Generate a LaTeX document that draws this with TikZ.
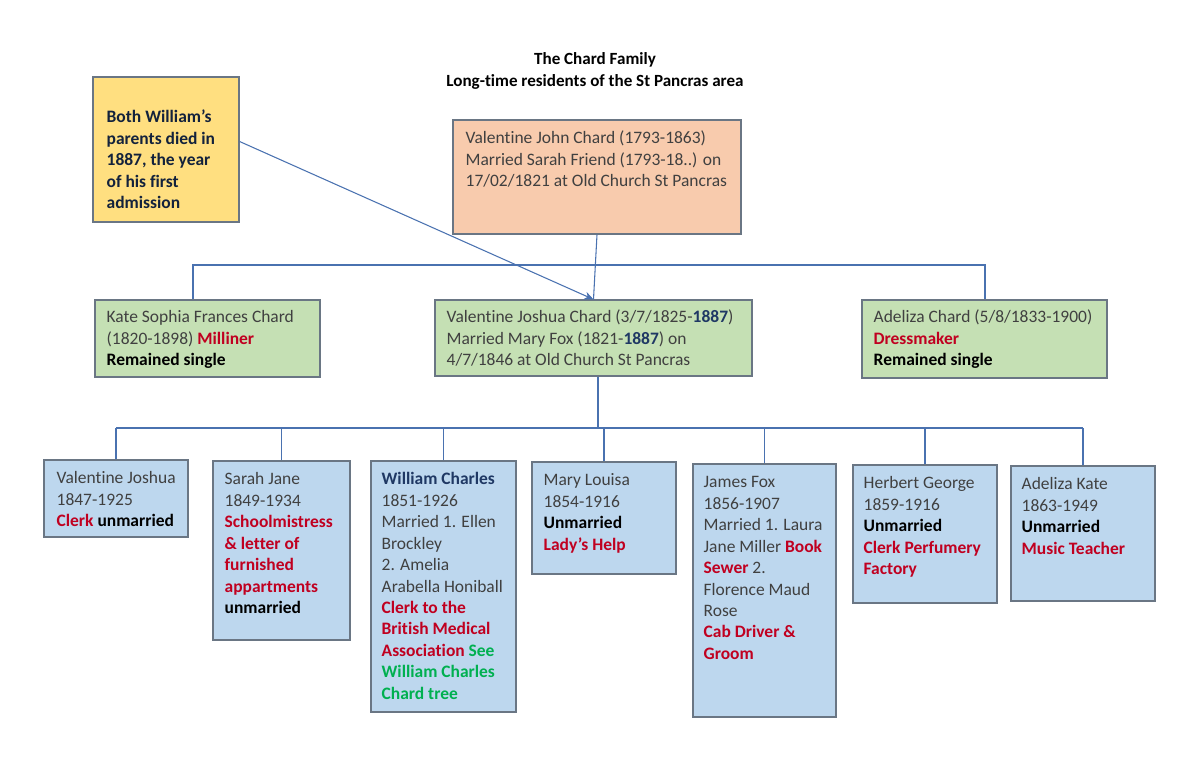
\documentclass[tikz,border=0pt]{standalone}
\usepackage{fontspec}
\setmainfont{Carlito}[Ligatures=NoCommon]
\usepackage{xcolor}
\usepackage{tikz}
\usetikzlibrary{arrows.meta,positioning,calc,fit}

\definecolor{notefill}{HTML}{FFDF80}
\definecolor{headfill}{HTML}{F8CBAD}
\definecolor{genfill}{HTML}{C5E0B4}
\definecolor{childfill}{HTML}{BDD7EE}
\definecolor{boxline}{HTML}{6A7684}
\definecolor{linkblue}{HTML}{4A72B0}
\definecolor{bodygrey}{HTML}{404040}
\definecolor{jobred}{HTML}{C00020}
\definecolor{navy}{HTML}{1F3864}
\definecolor{seegreen}{HTML}{00B050}

\begin{document}
\begin{tikzpicture}[
    x=0.75pt, y=-0.75pt,
    fambox/.style={draw=boxline, line width=0.9pt, inner sep=0pt},
    famnote/.style={fambox, fill=notefill},
    famhead/.style={fambox, fill=headfill},
    famgen/.style={fambox, fill=genfill},
    famchild/.style={fambox, fill=childfill},
    famtext/.style={anchor=north west, inner sep=0pt, align=left, text=bodygrey,
        font=\fontsize{13.1}{16.1}\selectfont},
    famlink/.style={draw=linkblue, line width=0.8pt},
    fampointer/.style={->, >={Stealth[length=7pt,width=6pt]}, draw=linkblue, line width=0.8pt}
]
\useasboundingbox (0,0) rectangle (1200,766);

% Title
\node[anchor=north, inner sep=0pt, align=center, font=\fontsize{12.8}{16.5}\selectfont\bfseries] (title) at (595,49)
    {\strut The Chard Family\\Long-time residents of the St Pancras area};

% Note about William
\node[famnote, fit={(93,77) (239,222)}] (note) {};
\node[famtext, text=navy!60!black, font=\fontsize{13.1}{16.1}\selectfont\bfseries] (notetxt) at ($(note.north west)+(14,31)$)
    {\strut Both William's\\parents died in\\1887, the year\\of his first\\admission};

% Head of the family
\node[famhead, fit={(453,120) (741,234)}] (vjc) {};
\node[famtext] (vjctxt) at ($(vjc.north west)+(13,9)$)
    {\strut Valentine John Chard (1793-1863)\\Married Sarah Friend (1793-18..) on\\17/02/1821 at Old Church St Pancras};

% Second generation
\node[famgen, fit={(95,300) (320,377)}] (kate) {};
\node[famtext] (katetxt) at ($(kate.north west)+(12,8)$)
    {\strut Kate Sophia Frances Chard\\(1820-1898) {\color{jobred}\bfseries Milliner}\\{\color{black}\bfseries Remained single}};

\node[famgen, fit={(435,300) (752,376)}] (vj) {};
\node[famtext] (vjtxt) at ($(vj.north west)+(12,8)$)
    {\strut Valentine Joshua Chard (3/7/1825-{\color{navy}\bfseries 1887})\\Married Mary Fox (1821-{\color{navy}\bfseries 1887}) on\\4/7/1846 at Old Church St Pancras};

\node[famgen, fit={(862,300) (1107,378)}] (adeliza) {};
\node[famtext] (adelizatxt) at ($(adeliza.north west)+(12,8)$)
    {\strut Adeliza Chard (5/8/1833-1900)\\{\color{jobred}\bfseries Dressmaker}\\{\color{black}\bfseries Remained single}};

% Children of Valentine Joshua
\node[famchild, fit={(44,460) (188,537)}] (c1) {};
\node[famtext] (c1txt) at ($(c1.north west)+(13,9)$)
    {\strut Valentine Joshua\\1847-1925\\{\color{jobred}\bfseries Clerk} {\color{black}\bfseries unmarried}};

\node[famchild, fit={(213,461) (350,640)}] (c2) {};
\node[famtext] (c2txt) at ($(c2.north west)+(12,9)$)
    {\strut Sarah Jane\\1849-1934\\{\color{jobred}\bfseries Schoolmistress}\\{\color{jobred}\bfseries \& letter of}\\{\color{jobred}\bfseries furnished}\\{\color{jobred}\bfseries appartments}\\{\color{black}\bfseries unmarried}};

\node[famchild, fit={(371,461) (516,712)}] (c3) {};
\node[famtext] (c3txt) at ($(c3.north west)+(11,9)$)
    {\strut{\color{navy}\bfseries William Charles}\\1851-1926\\Married 1. Ellen\\Brockley\\2. Amelia\\Arabella Honiball\\{\color{jobred}\bfseries Clerk to the}\\{\color{jobred}\bfseries British Medical}\\{\color{jobred}\bfseries Association} {\color{seegreen}\bfseries See}\\{\color{seegreen}\bfseries William Charles}\\{\color{seegreen}\bfseries Chard tree}};

\node[famchild, fit={(532,462) (676,574)}] (c4) {};
\node[famtext] (c4txt) at ($(c4.north west)+(12,9)$)
    {\strut Mary Louisa\\1854-1916\\{\color{black}\bfseries Unmarried}\\{\color{jobred}\bfseries Lady's Help}};

\node[famchild, fit={(693,464) (836,717)}] (c5) {};
\node[famtext] (c5txt) at ($(c5.north west)+(11,9)$)
    {\strut James Fox\\1856-1907\\Married 1. Laura\\Jane Miller {\color{jobred}\bfseries Book}\\{\color{jobred}\bfseries Sewer} 2.\\Florence Maud\\Rose\\{\color{jobred}\bfseries Cab Driver \&}\\{\color{jobred}\bfseries Groom}};

\node[famchild, fit={(853,465) (997,603)}] (c6) {};
\node[famtext] (c6txt) at ($(c6.north west)+(11,9)$)
    {\strut Herbert George\\1859-1916\\{\color{black}\bfseries Unmarried}\\{\color{jobred}\bfseries Clerk Perfumery}\\{\color{jobred}\bfseries Factory}};

\node[famchild, fit={(1011,466) (1155,601)}] (c7) {};
\node[famtext] (c7txt) at ($(c7.north west)+(11,9)$)
    {\strut Adeliza Kate\\1863-1949\\{\color{black}\bfseries Unmarried}\\{\color{jobred}\bfseries Music Teacher}};

% Connectors
\coordinate (gen1l) at (193,265);
\coordinate (gen1r) at (985,265);
\coordinate (gen2) at (598,428);
\draw[famlink] (vjc.south) -- (vj.north);
\draw[famlink] (kate.north -| gen1l) -- (gen1l) -- (gen1r) -- (adeliza.north -| gen1r);
\draw[famlink] (vj.south -| gen2) -- (gen2);
\draw[famlink] (c1.north |- gen2) -- (c7.north |- gen2);
\foreach \c in {c1,c2,c3,c4,c5,c6,c7}
    \draw[famlink] (\c.north) -- (\c.north |- gen2);

% Pointer from the note
\draw[fampointer] ($(note.east)+(0,-8)$) -- (vj.north);

\end{tikzpicture}
\end{document}
